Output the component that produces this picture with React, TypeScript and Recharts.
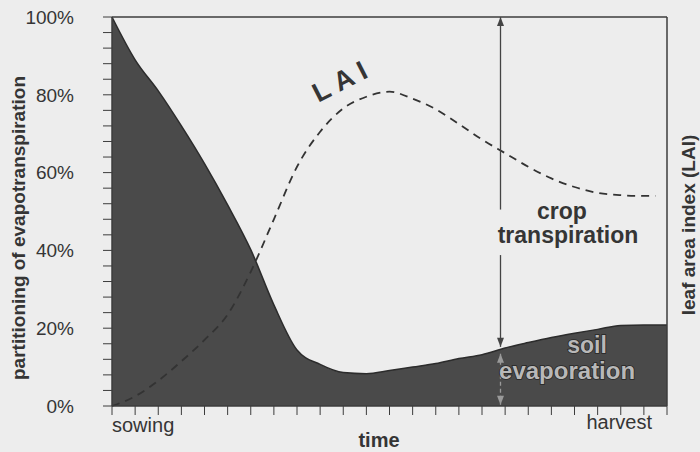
import React from 'react';
import {
  ComposedChart,
  Area,
  Line,
  XAxis,
  YAxis,
  ReferenceLine,
  ReferenceDot,
  Customized,
} from 'recharts';

// time steps from sowing (0) to harvest (24)
const TIME = [0, 1, 2, 3, 4, 5, 6, 7, 8, 9, 10, 11, 12, 13, 14, 15, 16, 17, 18, 19, 20, 21, 22, 23, 23.5, 24];
// share of evapotranspiration lost as soil evaporation (%)
const SOIL = [100, 89, 81, 72, 62.3, 51.7, 40.2, 26, 14.4, 10.7, 8.6, 8.3, 9.1, 10.0, 10.9, 12.2, 13.2, 14.9, 16.3, 17.6, 18.7, 19.7, 20.7, 20.8, 20.8, 20.8];
// leaf area index, drawn on the same relative scale
const LAI = [0, 2.5, 6.5, 11.5, 17, 23.5, 34.5, 48, 61.5, 70.5, 76.5, 79.5, 80.8, 79, 76.3, 72.5, 68.5, 65, 61.5, 58.5, 56.3, 54.8, 54.2, 54, 54, null];

const X_TICKS = [0, 1, 2, 3, 4, 5, 6, 7, 8, 9, 10, 11, 12, 13, 14, 15, 16, 17, 18, 19, 20, 21, 22, 23, 24];
const LEFT_TICKS = [0, 4, 8, 12, 16, 20, 24, 28, 32, 36, 40, 44, 48, 52, 56, 60, 64, 68, 72, 76, 80, 84, 88, 92, 96, 100];
const RIGHT_TICKS = [0, 2, 4, 6, 8, 10, 12, 14, 16, 18, 20, 22, 24, 26, 28, 30, 32, 34, 36, 38, 40, 42, 44, 46, 48, 50, 52, 54, 56, 58, 60, 62, 64, 66, 68, 70, 72, 74, 76, 78, 80, 82, 84, 86, 88, 90, 92, 94, 96, 98, 100];

const ARROW_T = 16.8;

const data = TIME.map((t, i) => ({ t, soil: SOIL[i], lai: LAI[i] }));

const FONT = '"Liberation Sans", Arial, Helvetica, sans-serif';
const INK = '#353535';
const AXIS = '#3c3c3c';

const TimeTick = (props: any) => {
  const { x, y, payload } = props;
  if (payload.value === 0) {
    return (
      <text x={x} y={y} dy={15} textAnchor="start" fontSize={20} fill={INK} fontFamily={FONT}>
        sowing
      </text>
    );
  }
  if (payload.value === 24) {
    return (
      <text x={x - 15} y={y} dy={12} textAnchor="end" fontSize={20} fill={INK} fontFamily={FONT}>
        harvest
      </text>
    );
  }
  return null;
};

// vertical arrow, head(s) drawn where asked
const arrowShape = (up: boolean, down: boolean, color: string, dash?: string) => (props: any) => {
  const { x1, y1, x2, y2 } = props;
  const top = Math.min(y1, y2);
  const bot = Math.max(y1, y2);
  const x = x1;
  return (
    <g>
      <line x1={x} y1={top} x2={x2} y2={bot} stroke={color} strokeWidth={1.3} strokeDasharray={dash} />
      {up && <polygon points={`${x},${top} ${x - 3.5},${top + 9} ${x + 3.5},${top + 9}`} fill={color} />}
      {down && <polygon points={`${x},${bot} ${x - 3.5},${bot - 9} ${x + 3.5},${bot - 9}`} fill={color} />}
    </g>
  );
};

// label sitting on top of the dark soil area; anchor is the baseline of "soil"
const SoilLabel = (props: any) => {
  const { cx, cy } = props;
  return (
    <g
      textAnchor="middle"
      fontWeight="bold"
      fontFamily={FONT}
      fill="#b8b8b8"
      stroke="#262626"
      strokeWidth={1.6}
      paintOrder="stroke"
    >
      <text x={cx + 20} y={cy} fontSize={23}>
        soil
      </text>
      <text x={cx} y={cy + 26} fontSize={24}>
        evaporation
      </text>
    </g>
  );
};

const Annotations = () => (
  <g fontFamily={FONT}>
    <text
      transform="translate(347,88) rotate(-27)"
      textAnchor="middle"
      fontSize={27}
      fontWeight="bold"
      letterSpacing={7}
      fill={INK}
    >
      LAI
    </text>
    <text x={562} y={219} textAnchor="middle" fontSize={23} fontWeight="bold" fill={INK}>
      crop
    </text>
    <text x={568} y={243} textAnchor="middle" fontSize={23} fontWeight="bold" fill={INK}>
      transpiration
    </text>
    <text x={379} y={447} textAnchor="middle" fontSize={20} fontWeight="bold" fill={INK}>
      time
    </text>
    <text transform="translate(25,228) rotate(-90)" textAnchor="middle" fontSize={19} fontWeight="bold" fill={INK}>
      partitioning of evapotranspiration
    </text>
    <text transform="translate(695,225) rotate(-90)" textAnchor="middle" fontSize={19} fontWeight="bold" fill={INK}>
      leaf area index (LAI)
    </text>
  </g>
);

export default function App() {
  return (
    <div style={{ position: 'absolute', left: 0, top: 0, width: 700, height: 452, background: '#ededed' }}>
      <ComposedChart width={700} height={452} data={data} margin={{ top: 17, right: 33, bottom: 0, left: 0 }}>
        <XAxis
          dataKey="t"
          type="number"
          domain={[0, 24]}
          ticks={X_TICKS}
          interval={0}
          tickSize={9}
          tick={<TimeTick />}
          height={46}
          axisLine={{ stroke: AXIS, strokeWidth: 1.5 }}
          tickLine={{ stroke: AXIS }}
        />
        <YAxis
          type="number"
          domain={[0, 100]}
          ticks={LEFT_TICKS}
          interval={0}
          width={112}
          tickSize={9}
          tickMargin={29}
          tickFormatter={(v: number) => (v % 20 === 0 ? `${v}%` : '')}
          tick={{ fontSize: 19, fill: INK, fontFamily: FONT }}
          axisLine={{ stroke: AXIS, strokeWidth: 1.5 }}
          tickLine={{ stroke: AXIS }}
        />
        <YAxis
          yAxisId="right"
          orientation="right"
          type="number"
          domain={[0, 100]}
          ticks={RIGHT_TICKS}
          interval={0}
          mirror
          width={33}
          tickSize={10}
          tick={false}
          axisLine={{ stroke: AXIS, strokeWidth: 1.5 }}
          tickLine={{ stroke: '#777' }}
        />
        <Area
          dataKey="soil"
          type="monotone"
          fill="#4a4a4a"
          fillOpacity={1}
          stroke="#2c2c2c"
          strokeWidth={1.5}
          isAnimationActive={false}
        />
        <Line
          dataKey="lai"
          type="monotone"
          stroke="#333"
          strokeWidth={1.8}
          strokeDasharray="8 6"
          dot={false}
          isAnimationActive={false}
        />
        <ReferenceLine y={100} stroke={AXIS} strokeWidth={1.5} />
        <ReferenceLine
          segment={[{ x: ARROW_T, y: 100 }, { x: ARROW_T, y: 50.5 }]}
          shape={arrowShape(true, false, '#444')}
        />
        <ReferenceLine
          segment={[{ x: ARROW_T, y: 38.8 }, { x: ARROW_T, y: 15.2 }]}
          shape={arrowShape(false, true, '#444')}
        />
        <ReferenceLine
          segment={[{ x: ARROW_T, y: 13.4 }, { x: ARROW_T, y: 0.3 }]}
          shape={arrowShape(true, true, '#9a9a9a', '4 3')}
        />
        <ReferenceDot x={19.68} y={13.6} r={0} shape={<SoilLabel />} />
        <Customized component={<Annotations />} />
      </ComposedChart>
    </div>
  );
}
